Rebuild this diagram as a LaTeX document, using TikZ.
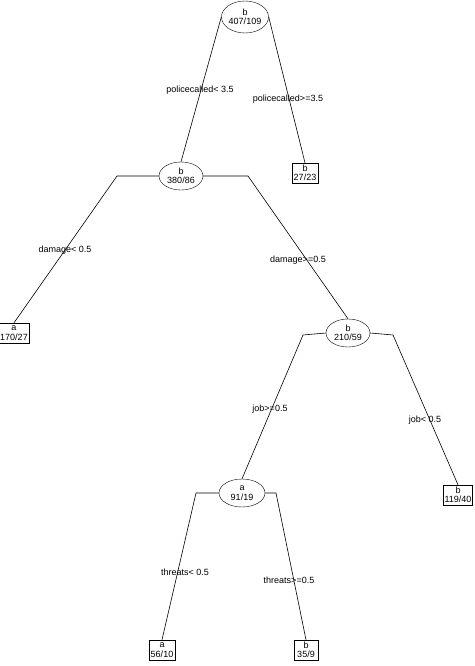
\documentclass[tikz,border=0pt]{standalone}
\usepackage{fontspec}
\setmainfont{Liberation Sans}
\usetikzlibrary{shapes.geometric}
\begin{document}
\begin{tikzpicture}[x=1pt,y=-1pt,
  every node/.style={font=\fontsize{9}{9.5}\selectfont, align=center, inner sep=1pt},
  split/.style={ellipse, draw, minimum width=44pt, minimum height=28pt, inner sep=0pt},
  leaf/.style={rectangle, draw, minimum width=26pt, minimum height=20pt, inner sep=1pt},
  lbl/.style={inner sep=0pt},
  edge/.style={draw, line width=0.6pt}]
\useasboundingbox (0,0) rectangle (474,666);
\node[split, minimum width=47pt, minimum height=32pt] (n1) at (245,17) {b\\407/109};
\node[split] (n2) at (181,176) {b\\380/86};
\node[leaf] (l1) at (305,173) {b\\27/23};
\node[leaf, minimum width=30pt] (l2) at (14,333) {a\\170/27};
\node[split] (n3) at (348,333) {b\\210/59};
\node[leaf] (l3) at (458,495) {b\\119/40};
\node[split, minimum width=46pt] (n4) at (242,493) {a\\91/19};
\node[leaf] (l4) at (162,650) {a\\56/10};
\node[leaf, minimum width=24pt] (l5) at (306,650) {b\\35/9};
\coordinate (c2l) at (117,176);
\coordinate (c2r) at (248,176);
\coordinate (c3l) at (303,335);
\coordinate (c3r) at (393,335);
\coordinate (c4l) at (196,493);
\coordinate (c4r) at (276,493);
\draw[edge] (n1.west) -- (n2.north);
\draw[edge] (n1.east) -- (l1.north);
\draw[edge] (n2.west) -- (c2l) -- (l2.north);
\draw[edge] (n2.east) -- (c2r) -- (n3.north);
\draw[edge] (n3.west) -- (c3l) -- (n4.north);
\draw[edge] (n3.east) -- (c3r) -- (l3.north);
\draw[edge] (n4.west) -- (c4l) -- (l4.north);
\draw[edge] (n4.east) -- (c4r) -- (l5.north);
\node[lbl] (e1) at (200,90) {policecalled< 3.5};
\node[lbl] (e2) at (288,99) {policecalled>=3.5};
\node[lbl] (e3) at (65,250) {damage< 0.5};
\node[lbl] (e4) at (298,260) {damage>=0.5};
\node[lbl] (e5) at (270,409) {job>=0.5};
\node[lbl] (e6) at (425,420) {job< 0.5};
\node[lbl] (e7) at (185,572) {threats< 0.5};
\node[lbl] (e8) at (289,580) {threats>=0.5};
\end{tikzpicture}
\end{document}
